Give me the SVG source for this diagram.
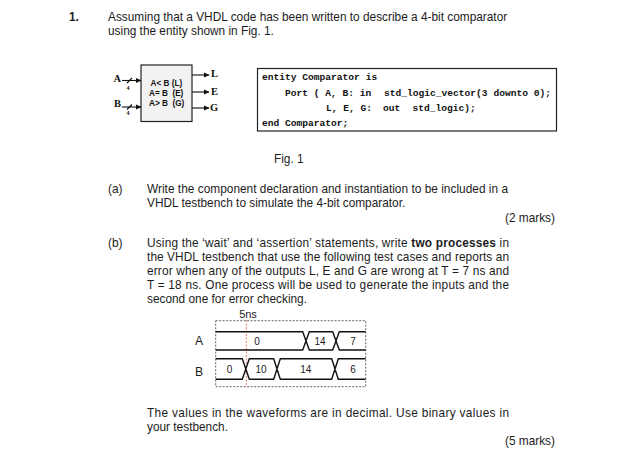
<svg xmlns="http://www.w3.org/2000/svg" width="619" height="458" viewBox="0 0 619 458">
<style>
.t{font-family:"Liberation Sans",Arial,sans-serif;font-size:11.85px;fill:#1c1c1c}
.b{font-weight:bold}
.lab{font-family:"Liberation Sans",Arial,sans-serif;font-size:8.2px;font-weight:bold;fill:#111;white-space:pre}
.ser{font-family:"Liberation Serif",serif;font-size:10.5px;font-weight:bold;fill:#111}
.mono{font-family:"Liberation Mono",monospace;font-size:9.6px;font-weight:bold;fill:#111}
.w{font-family:"Liberation Sans",Arial,sans-serif;font-size:10px;fill:#1c1c1c;text-anchor:middle}
.wl{font-family:"Liberation Sans",Arial,sans-serif;font-size:12.2px;fill:#1c1c1c;text-anchor:middle}
.wire{fill:none;stroke:#111;stroke-width:1.1}
.wave{fill:none;stroke:#111;stroke-width:1.4}
</style>
<defs><marker id="ah" markerWidth="6" markerHeight="6" refX="5" refY="3" orient="auto" markerUnits="userSpaceOnUse"><path d="M0 0.5L5.5 3L0 5.5Z" fill="#111"/></marker></defs>
<rect width="619" height="458" fill="#fff"/>
<g id="question-text">
<text class="t b" x="69" y="21">1.</text>
<text class="t" x="108" y="21">Assuming that a VHDL code has been written to describe a 4-bit comparator</text>
<text class="t" x="108" y="35">using the entity shown in Fig. 1.</text>
<text class="t" x="274" y="163">Fig. 1</text>
<text class="t" x="108" y="193">(a)</text>
<text class="t" x="147" y="193" textLength="361">Write the component declaration and instantiation to be included in a</text>
<text class="t" x="147" y="207">VHDL testbench to simulate the 4-bit comparator.</text>
<text class="t" x="555" y="222" text-anchor="end">(2 marks)</text>
<text class="t" x="108" y="247">(b)</text>
<text class="t" x="147" y="247" textLength="362">Using the ‘wait’ and ‘assertion’ statements, write <tspan class="b">two processes</tspan> in</text>
<text class="t" x="147" y="261" textLength="362">the VHDL testbench that use the following test cases and reports an</text>
<text class="t" x="147" y="275" textLength="362">error when any of the outputs L, E and G are wrong at T = 7 ns and</text>
<text class="t" x="147" y="289" textLength="362">T = 18 ns. One process will be used to generate the inputs and the</text>
<text class="t" x="147" y="303">second one for error checking.</text>
<text class="t" x="147" y="417" textLength="362">The values in the waveforms are in decimal. Use binary values in</text>
<text class="t" x="147" y="431">your testbench.</text>
<text class="t" x="555" y="445" text-anchor="end">(5 marks)</text>
</g>
<g id="comparator">
<rect x="141" y="65" width="51" height="56.500" fill="#f2f2f2" stroke="#222" stroke-width="1.200"/>
<text class="lab" x="150.500" y="86">A&lt; B (L)</text>
<text class="lab" x="149" y="96">A= B  (E)</text>
<text class="lab" x="149" y="106">A&gt; B  (G)</text>
</g>
<g id="ports">
<text class="ser" x="113.500" y="82">A</text>
<text class="ser" x="114" y="107">B</text>
<text class="ser" x="211" y="77">L</text>
<text class="ser" x="211" y="95">E</text>
<text class="ser" x="210" y="111">G</text>
<text class="ser" x="126.500" y="90" style="font-size:6px">4</text>
<text class="ser" x="126.500" y="115" style="font-size:6px">4</text>
</g>
<g id="connectors">
<path class="wire" d="M122 80.500H141" marker-end="url(#ah)"/>
<path class="wire" d="M122 107H141" marker-end="url(#ah)"/>
<path class="wire" d="M127 83L132 78M127 109.500L132 104.500"/>
<path class="wire" d="M192 75H209" marker-end="url(#ah)"/>
<path class="wire" d="M192 92H209" marker-end="url(#ah)"/>
<path class="wire" d="M192 108H209" marker-end="url(#ah)"/>
</g>
<g id="code-box">
<rect x="257.500" y="68.500" width="299" height="62.500" fill="#fff" stroke="#222" stroke-width="1.200"/>
<text class="mono" x="262" y="80">entity Comparator is</text>
<text class="mono" x="285" y="96">Port ( A, B: in</text>
<text class="mono" x="384" y="96">std_logic_vector(3 downto 0);</text>
<text class="mono" x="326" y="111">L, E, G:</text>
<text class="mono" x="383" y="111">out</text>
<text class="mono" x="412.500" y="111">std_logic);</text>
<text class="mono" x="262" y="126">end Comparator;</text>
</g>
<g id="waveform">
<rect x="215.700" y="320.700" width="150" height="66" fill="none" stroke="#555" stroke-width="0.900" stroke-dasharray="2 1.500"/>
<path d="M246.300 320V387" fill="none" stroke="#f26d6d" stroke-width="0.900" stroke-dasharray="2 1.500"/>
<path class="wave" d="M215.700 331.700H302.700L309.300 350H332.700L339.300 331.700H365.700M215.700 350H302.700L309.300 331.700H332.700L339.300 350H365.700"/>
<path class="wave" d="M215.700 358.700H242.300L249.300 379.300H273.700L280.300 358.700H331.700L338.300 379.300H365.700M215.700 379.300H242.300L249.300 358.700H273.700L280.300 379.300H331.700L338.300 358.700H365.700"/>
<text class="w" x="248" y="318" style="font-size:11px">5ns</text>
<text class="wl" x="199" y="345">A</text>
<text class="wl" x="199" y="376">B</text>
<text class="w" x="257" y="344.500">0</text>
<text class="w" x="320" y="344.500">14</text>
<text class="w" x="353" y="344.500">7</text>
<text class="w" x="229.500" y="372.500">0</text>
<text class="w" x="261" y="372.500">10</text>
<text class="w" x="305.700" y="372.500">14</text>
<text class="w" x="353" y="372.500">6</text>
</g>
</svg>
